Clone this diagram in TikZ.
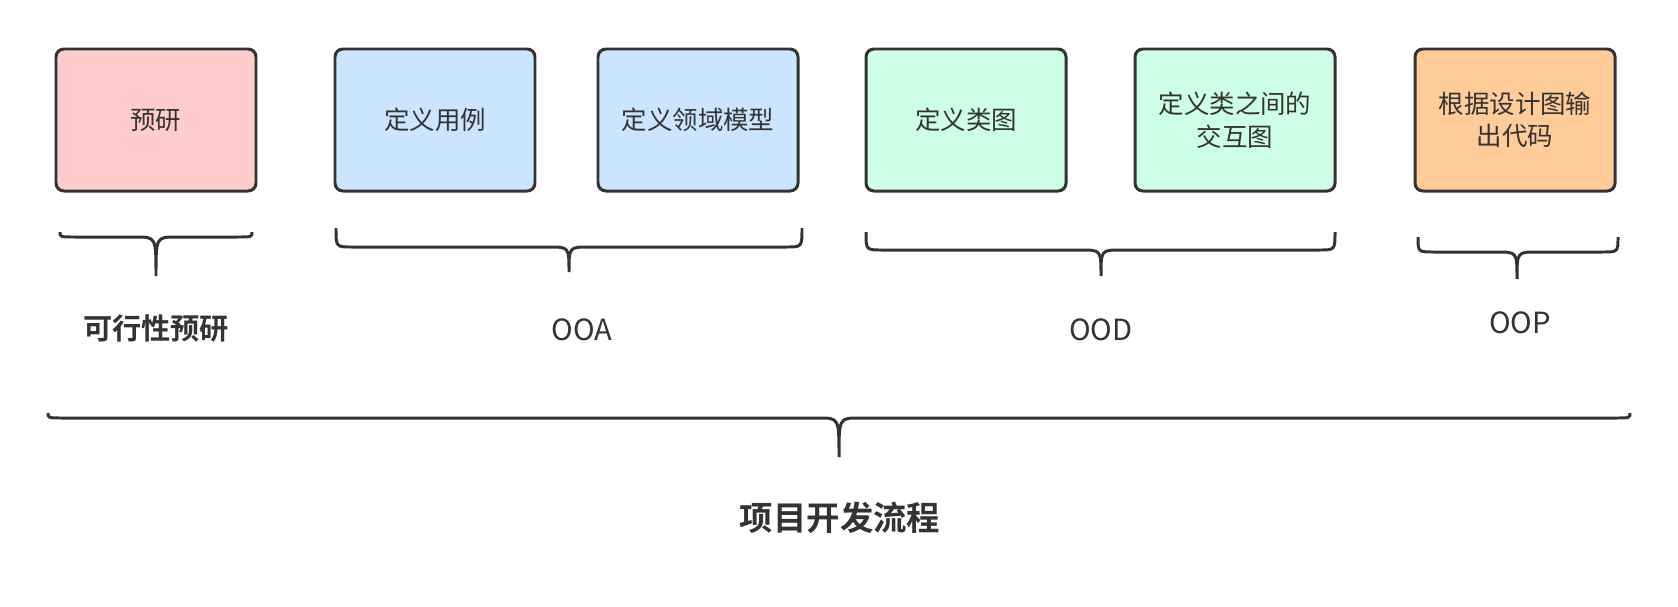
\documentclass[tikz,border=0pt]{standalone}
\usepackage{fontspec}
\setmainfont{Noto Sans CJK SC}[BoldFont={Noto Sans CJK SC Bold}]
\usepackage{tikz}
\usetikzlibrary{
    arrows.meta,  % not strictly needed, kept for consistency
    calc          % coordinate arithmetic for the braces
}
\definecolor{textgray}{HTML}{333333}
\definecolor{studyred}{HTML}{FFCCCC}
\definecolor{ooablue}{HTML}{CCE5FF}
\definecolor{oodgreen}{HTML}{CCFFE6}
\definecolor{ooporange}{HTML}{FFCC99}

% curly bracket: x-left, x-centre, x-right, y-ends, y-bar, y-tip
\newcommand{\curlybrace}[6]{%
    \draw[bracket] (#1,#4) .. controls (#1,#5) .. ({#1+16},#5)
        -- ({#2-20},#5) .. controls (#2,#5) .. (#2,#6)
        .. controls (#2,#5) .. ({#2+20},#5)
        -- ({#3-16},#5) .. controls (#3,#5) .. (#3,#4);%
}

\begin{document}
\begin{tikzpicture}[
    x=0.02cm, y=-0.02cm,
    font=\fontsize{14.5pt}{18.5pt}\selectfont,
    every node/.style={text=textgray},
    stepbox/.style={draw=textgray, line width=1.7pt, rounded corners=4.5pt,
        minimum width=200*0.02cm, minimum height=142*0.02cm,
        align=center, inner sep=2pt, text width=170*0.02cm},
    bracket/.style={draw=textgray, line width=1.7pt},
    phase/.style={font=\fontsize{16.6pt}{20pt}\selectfont},
]
    \useasboundingbox (0,0) rectangle (1678,606);

    % --- Work steps ---
    \node[stepbox, fill=studyred]  (study)   at (156,120)  {预研};
    \node[stepbox, fill=ooablue]   (usecase) at (435,120)  {定义用例};
    \node[stepbox, fill=ooablue]   (domain)  at (698,120)  {定义领域模型};
    \node[stepbox, fill=oodgreen]  (classes) at (966,120)  {定义类图};
    \node[stepbox, fill=oodgreen]  (interact) at (1235,120) {定义类之间的\\交互图};
    \node[stepbox, fill=ooporange] (coding)  at (1515,120) {根据设计图输\\出代码};

    % --- Phase brackets ---
    \curlybrace{60}{156}{252}{232}{237}{276}
    \curlybrace{336}{569}{802}{228}{247}{272}
    \curlybrace{866}{1101}{1335}{232}{250}{276}
    \curlybrace{1418}{1517}{1618}{237}{252}{279}

    % --- Phase names ---
    \node[phase, font=\fontsize{16.6pt}{20pt}\selectfont\bfseries] (feasible) at (156,329) {可行性预研};
    \node[phase] (ooa) at (582,330) {OOA};
    \node[phase] (ood) at (1101,330) {OOD};
    \node[phase] (oop) at (1520,323) {OOP};

    % --- Whole project ---
    \curlybrace{48}{839}{1630}{413}{418}{457}
    \node[font=\fontsize{19pt}{22pt}\selectfont\bfseries] (project) at (840,518) {项目开发流程};
\end{tikzpicture}
\end{document}
